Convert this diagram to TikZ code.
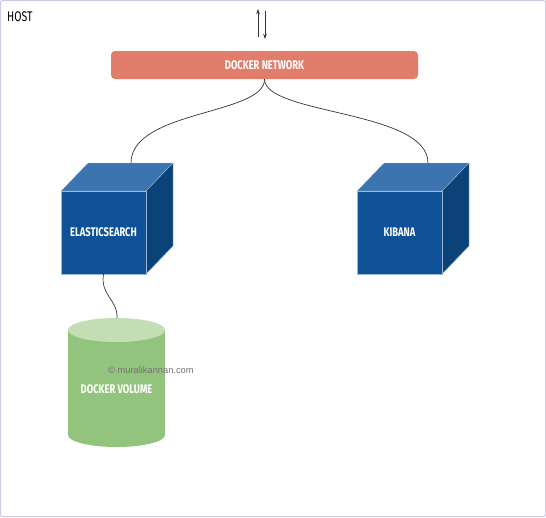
\documentclass[tikz,border=0pt]{standalone}
\usepackage{fontspec}
\setmainfont{Fira Sans}
\newfontfamily\lab[FakeStretch=0.75]{Fira Sans}
\newfontfamily\wm{Liberation Sans}
\usetikzlibrary{arrows.meta}
\definecolor{frame}{HTML}{CFC8E6}
\definecolor{netc}{HTML}{E07E6B}
\definecolor{cfront}{HTML}{0F5196}
\definecolor{ctop}{HTML}{3B74AE}
\definecolor{cside}{HTML}{0B4379}
\definecolor{vbody}{HTML}{93C47D}
\definecolor{vtop}{HTML}{C3DDB5}
\tikzset{
  lbl/.style={text=white,font=\lab\bfseries\fontsize{12.5}{14}\selectfont},
  conn/.style={draw=black!80,line width=0.7pt},
  arr/.style={draw=black!80,line width=0.8pt,-{Stealth[length=5pt,width=3.5pt]}},
}
\begin{document}
\begin{tikzpicture}[x=1pt,y=-1pt]
\useasboundingbox (0,0) rectangle (546,517);
\draw[frame,line width=1pt,rounded corners=2pt] (0.5,0.5) rectangle (545.5,516.5);
\node[anchor=west,font=\lab\fontsize{14}{16}\selectfont,inner sep=0pt] (host) at (7,17) {HOST};
% arrows
\coordinate (ua) at (258,37);
\coordinate (ub) at (258,9);
\coordinate (da) at (265,11);
\coordinate (db) at (265,39);
\draw[arr] (ua) -- (ub);
\draw[arr] (da) -- (db);
% network
\node[fill=netc,rounded corners=4pt,minimum width=307pt,minimum height=28pt,inner sep=0pt,lbl] (net) at (264.5,65) {DOCKER NETWORK};
% cubes
\newcommand{\mycube}[3]{%
  \fill[ctop,draw=white!60!ctop,line width=0.4pt] (#1,191) -- (#1+27,163) -- (#1+112,163) -- (#1+85,191) -- cycle;
  \fill[cside,draw=white!60!cside,line width=0.4pt] (#1+85,191) -- (#1+112,163) -- (#1+112,246) -- (#1+85,274) -- cycle;
  \node[fill=cfront,draw=white!60!cfront,line width=0.4pt,minimum width=85pt,minimum height=83pt,inner sep=0pt,lbl] (#2) at (#1+42.5,232.5) {#3};
}
\mycube{61}{es}{ELASTICSEARCH}
\mycube{357}{kb}{KIBANA}
\coordinate (estop) at (131,163);
\coordinate (kbtop) at (428,163);
\draw[conn] (net.south) .. controls (265,115) and (131,110) .. (estop);
\draw[conn] (net.south) .. controls (265,115) and (428,110) .. (kbtop);
% cylinder
\fill[vbody] (68,330) -- (68,435) arc[start angle=180,end angle=0,x radius=48.5,y radius=12] -- (165,330) -- cycle;
\fill[vtop] (116.5,330) ellipse[x radius=48.5,y radius=12];
\node[lbl] (vol) at (116.5,389) {DOCKER VOLUME};
\coordinate (voltop) at (117,318);
\draw[conn] (es.south) .. controls (100,295) and (118,300) .. (voltop);
\node[anchor=west,text=black!55,font=\wm\fontsize{9.3}{11}\selectfont,inner sep=0pt] (wmk) at (108,370) {© muralikannan.com};
\end{tikzpicture}
\end{document}
